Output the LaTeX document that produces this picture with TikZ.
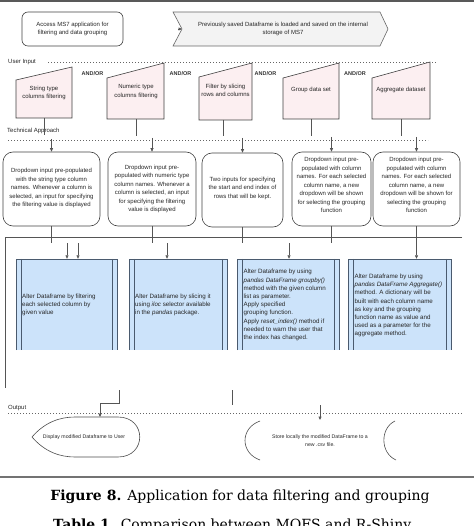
\documentclass[tikz,border=0pt]{standalone}
\usepackage{fontspec}
\setmainfont{Liberation Serif}
\newfontfamily\dfont{Liberation Sans}
\newfontfamily\capfont{DejaVu Serif}
\usetikzlibrary{arrows.meta}
\definecolor{linec}{HTML}{555555}
\definecolor{pinkf}{HTML}{FCEFF1}
\definecolor{bluef}{HTML}{CCE3FA}
\definecolor{chevf}{HTML}{F3F3F3}
\definecolor{bedge}{HTML}{4A5A6E}
\begin{document}
\begin{tikzpicture}[x=1pt,y=-1pt,
  txt/.style={font=\dfont\fontsize{6}{8.5}\selectfont, align=center, inner sep=0pt, text=black!85},
  btxt/.style={font=\dfont\fontsize{6.2}{8.2}\selectfont, align=left, inner sep=0pt, anchor=west, text=black!85},
  smalltxt/.style={font=\dfont\fontsize{5.2}{8}\selectfont, align=center, inner sep=0pt, text=black!85},
  lanetxt/.style={font=\dfont\fontsize{6}{7}\selectfont, inner sep=0pt, anchor=west, text=black!85},
  andor/.style={font=\dfont\bfseries\fontsize{5.5}{6}\selectfont, inner sep=0pt, text=black!80},
  captxt/.style={font=\capfont\fontsize{14}{17}\selectfont, inner sep=0pt},
  dotline/.style={draw=black!60, line width=0.8pt, dash pattern=on 0.8pt off 2.2pt},
  conn/.style={draw=linec, line width=0.6pt},
  arr/.style={conn, -{Triangle[length=3.5pt,width=3pt]}},
  rbox/.style={draw=black!75, line width=0.6pt, rounded corners=10pt, inner sep=0pt, minimum height=74pt},
  topbox/.style={draw=black!75, line width=0.6pt, rounded corners=6pt, inner sep=0pt, minimum height=34pt, minimum width=101pt},
  chev/.style={fill=chevf, draw=black!60, line width=0.6pt},
  manual/.style={fill=pinkf, draw=black!75, line width=0.6pt},
  bbox/.style={fill=bluef, inner sep=0pt, minimum height=91pt},
  bside/.style={draw=bedge, line width=0.6pt},
  outshape/.style={draw=black!70, line width=0.6pt},
]
\useasboundingbox (0,0) rectangle (474,526);
\fill[black!65] (0,0) rectangle (474,2);

% ---------- top row ----------
\node[topbox] (access) at (72.5,29) {};
\node[txt] (accesst) at (72.5,29) {Access MS7 application for\\filtering and data grouping};
\draw[chev] (173,12) -- (380,12) -- (388,29) -- (380,46) -- (173,46) -- (182,29) -- cycle;
\node[txt] (saved) at (283,29) {Previously saved Dataframe is loaded and saved on the internal\\storage of MS7};
\coordinate (notchA) at (178,29);
\coordinate (notch) at (182,29);
\draw[arr] (notchA) -- (notch);

% ---------- lanes ----------
\node[lanetxt] (ui) at (8,62) {User Input};
\coordinate (uiL) at (48,62); \coordinate (uiR) at (437,62);
\draw[dotline] (uiL) -- (uiR);
\node[lanetxt] (ta) at (7,131) {Technical Approach};
\coordinate (taL) at (8,140); \coordinate (taR) at (428,140);
\draw[dotline] (taL) -- (taR);
\node[lanetxt] (op) at (8,408) {Output};
\coordinate (opL) at (8,413); \coordinate (opR) at (462,413);
\draw[dotline] (opL) -- (opR);

% ---------- user input shapes ----------
\draw[manual] (16,80) -- (72,67) -- (72,118) -- (16,118) -- cycle;
\node[txt] (f1) at (44,93) {String type\\columns filtering};
\draw[manual] (107,78) -- (164,63) -- (164,119) -- (107,119) -- cycle;
\node[txt] (f2) at (136,91.5) {Numeric type\\columns filtering};
\draw[manual] (199,77) -- (252,63) -- (252,120) -- (199,120) -- cycle;
\node[txt] (f3) at (225.5,90.5) {Filter by slicing\\rows and columns};
\draw[manual] (283,78) -- (339,63) -- (339,119) -- (283,119) -- cycle;
\node[txt] (f4) at (311,90) {Group data set};
\draw[manual] (372,78) -- (430,62) -- (430,119) -- (372,119) -- cycle;
\node[txt] (f5) at (401,90) {Aggregate dataset};

\node[andor] (ao1) at (92.5,74) {AND/OR};
\node[andor] (ao2) at (180.5,74) {AND/OR};
\node[andor] (ao3) at (265.5,74) {AND/OR};
\node[andor] (ao4) at (355,74) {AND/OR};

% hanging lines below the input shapes
\coordinate (f1b) at (44,118);  \coordinate (f1e) at (44,135);
\coordinate (f2b) at (136,119); \coordinate (f2e) at (136,136);
\coordinate (f3b) at (223,120); \coordinate (f3e) at (223,136);
\coordinate (f4b) at (311,119); \coordinate (f4e) at (311,136);
\coordinate (f5b) at (401,119); \coordinate (f5e) at (401,136);
\foreach \i in {1,...,5} { \draw[conn] (f\i b) -- (f\i e); }

% ---------- technical approach boxes ----------
\node[rbox, minimum width=97pt] (r1) at (51.5,189) {};
\node[txt] (r1t) at (51.5,188) {Dropdown input pre-populated\\with the string type column\\names. Whenever a column is\\selected, an input for specifying\\the filtering value is displayed};
\node[rbox, minimum width=88pt] (r2) at (152,189) {};
\node[txt] (r2t) at (152,189) {Dropdown input pre-\\populated with numeric type\\column names. Whenever a\\column is selected, an input\\for specifying the filtering\\value is displayed};
\node[rbox, minimum width=81pt] (r3) at (242.5,190) {};
\node[txt] (r3t) at (242.5,188) {Two inputs for specifying\\the start and end index of\\rows that will be kept.};
\node[rbox, minimum width=79pt] (r4) at (331.5,189) {};
\node[txt] (r4t) at (331.5,185) {Dropdown input pre-\\populated with column\\names. For each selected\\column name, a new\\dropdown will be shown\\for selecting the grouping\\function};
\node[rbox, minimum width=87pt] (r5) at (416.5,189) {};
\node[txt] (r5t) at (416.5,185) {Dropdown input pre-\\populated with column\\names. For each selected\\column name, a new\\dropdown will be shown for\\selecting the grouping\\function};

\coordinate (r1a) at (51.5,139); \coordinate (r2a) at (152,138);
\coordinate (r3a) at (242.5,138); \coordinate (r4a) at (331.5,137);
\coordinate (r5a) at (416.5,137);
\foreach \i in {1,...,5} { \draw[arr] (r\i a) -- (r\i.north); }

% ---------- bus ----------
\coordinate (busL) at (5,237); \coordinate (busR) at (462,237); \coordinate (busB) at (5,388);
\draw[conn] (busR) -- (busL) -- (busB);
\coordinate (r1s) at (51.5,243); \coordinate (r2s) at (152,243);
\coordinate (r3s) at (242.5,243); \coordinate (r4s) at (331.5,243);
\foreach \i in {1,...,4} { \draw[conn] (r\i.south) -- (r\i s); }

% ---------- alter boxes ----------
\node[bbox, minimum width=101pt] (b1) at (66.5,304.5) {};
\node[bbox, minimum width=98pt] (b2) at (178,304.5) {};
\node[bbox, minimum width=102pt] (b3) at (288,304.5) {};
\node[bbox, minimum width=103pt] (b4) at (399.5,304.5) {};
\foreach \b in {b1,b2,b3,b4} {
  \draw[bside] (\b.south west) -- (\b.north west) -- (\b.north east) -- (\b.south east);
  \draw[bside] ([xshift=5pt]\b.north west) -- ([xshift=5pt]\b.south west);
  \draw[bside] ([xshift=-5pt]\b.north east) -- ([xshift=-5pt]\b.south east);
}
\node[btxt] (b1t) at (22,305) {Alter Dataframe by filtering\\each selected column by\\given value};
\node[btxt] (b2t) at (135,305) {Alter Dataframe by slicing it\\using \textit{iloc} selector available\\in the \textit{pandas} package.};
\node[btxt] (b3t) at (243.5,305) {Alter Dataframe by using\\\textit{pandas DataFrame groupby()}\\method with the given column\\list as parameter.\\Apply specified\\grouping function.\\Apply \textit{reset\_index()} method if\\needed to warn the user that\\the index has changed.};
\node[btxt] (b4t) at (354.5,305.5) {Alter Dataframe by using\\\textit{pandas DataFrame Aggregate()}\\method. A dictionary will be\\built with each column name\\as key and the grouping\\function name as value and\\used as a parameter for the\\aggregate method.};

\coordinate (a1) at (67,243); \coordinate (a2) at (78,243);
\coordinate (a3) at (167,243); \coordinate (a4) at (289,243);
\draw[arr] (a1) -- (a1 |- b1.north);
\draw[arr] (a2) -- (a2 |- b1.north);
\draw[arr] (a3) -- (a3 |- b2.north);
\draw[arr] (a4) -- (a4 |- b3.north);
\draw[arr] (r5.south) -- (r5.south |- b4.north);

% ---------- output ----------
\coordinate (s1) at (119,390); \coordinate (s1b) at (119,403); \coordinate (dtop) at (100,417);
\draw[arr] (s1) -- (s1b) -| (dtop);
\coordinate (s2) at (232,390); \coordinate (s2b) at (232,405);
\draw[conn] (s2) -- (s2b);
\coordinate (s3) at (320,405); \coordinate (stop) at (320,420);
\draw[arr] (s3) -- (stop);

\draw[outshape] (32,437) .. controls (45,422) and (60,417) .. (75,417) -- (118,417)
   .. controls (147,417) and (147,457) .. (118,457) -- (75,457)
   .. controls (60,457) and (45,452) .. (32,437) -- cycle;
\node[smalltxt] (disp) at (84,437) {Display modified Dataframe to User};

\draw[outshape] (260,421) .. controls (240,428) and (240,453) .. (260,460);
\draw[outshape] (395,421) .. controls (380,428) and (380,453) .. (396,460);
\node[smalltxt] (store) at (320,441) {Store locally the modified DataFrame to a\\new .csv file.};

% ---------- caption ----------
\draw[black!55, line width=1.8pt] (0,477) -- (474,477);
\node[captxt, anchor=base] (cap) at (240,500.5) {\textbf{Figure 8.} Application for data filtering and grouping};
\node[captxt, anchor=base west] (tab) at (53,529) {\textbf{Table 1.} Comparison between MOFS and R-Shiny};
\end{tikzpicture}
\end{document}
